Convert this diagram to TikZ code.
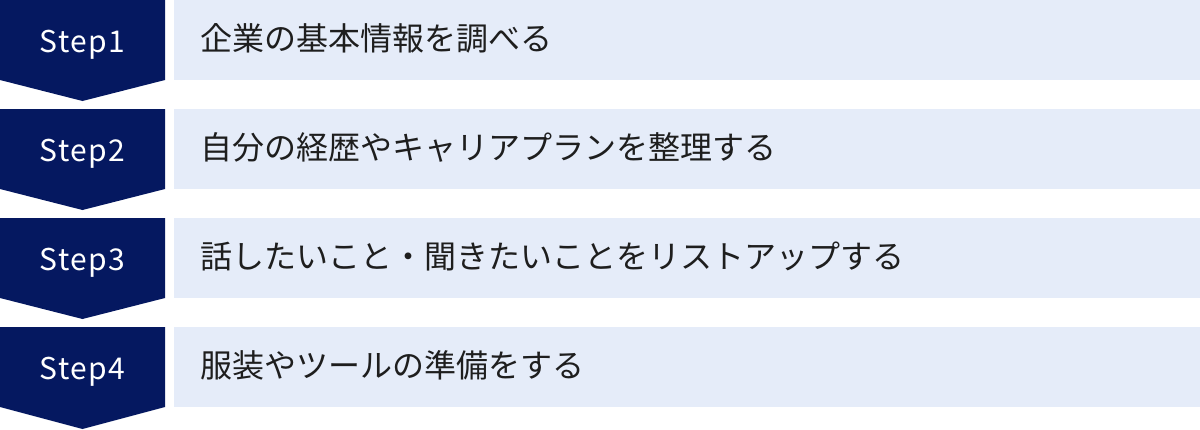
\documentclass[tikz,border=0pt]{standalone}
\usepackage{fontspec}
\newfontfamily\latinfont[LetterSpace=5]{Noto Sans CJK JP}
\newfontfamily\jpfont{Noto Sans CJK JP}
\definecolor{navy}{RGB}{5,24,96}
\definecolor{barblue}{RGB}{229,236,249}
\definecolor{ink}{RGB}{30,30,30}
\begin{document}
\begin{tikzpicture}[x=1pt,y=1pt]

\tikzset{marker/.style = {fill=navy}}
\tikzset{bar/.style = {fill=barblue}}
\tikzset{steplabel/.style = {anchor=base,inner sep=0pt,text=white,font=\latinfont\fontsize{30}{30}\selectfont}}
\tikzset{task/.style = {anchor=base west,inner sep=0pt,text=ink,font=\jpfont\fontsize{32}{32}\selectfont}}
\useasboundingbox (0,0) rectangle (1200,-429);
% markers
\fill[marker] (0,0) -- (165,0) -- (165,-80) -- (82.5,-101) -- (0,-80) -- cycle;
\fill[marker] (0,-109) -- (165,-109) -- (165,-189) -- (82.5,-210) -- (0,-189) -- cycle;
\fill[marker] (0,-218) -- (165,-218) -- (165,-298) -- (82.5,-319) -- (0,-298) -- cycle;
\fill[marker] (0,-327) -- (165,-327) -- (165,-407) -- (82.5,-429) -- (0,-407) -- cycle;
% bars
\fill[bar] (174,0) rectangle (1200,-80);
\fill[bar] (174,-109) rectangle (1200,-189);
\fill[bar] (174,-218) rectangle (1200,-298);
\fill[bar] (174,-327) rectangle (1200,-407);
% labels
\node[steplabel] (s1) at (82.5,-52) {Step1};
\node[steplabel] (s2) at (82.5,-161) {Step2};
\node[steplabel] (s3) at (82.5,-270) {Step3};
\node[steplabel] (s4) at (82.5,-379) {Step4};
\node[task] (t1) at (200,-50.5) {企業の基本情報を調べる};
\node[task] (t2) at (200,-159.5) {自分の経歴やキャリアプランを整理する};
\node[task] (t3) at (200,-268.5) {話したいこと・聞きたいことをリストアップする};
\node[task] (t4) at (200,-377.5) {服装やツールの準備をする};

\end{tikzpicture}
\end{document}
